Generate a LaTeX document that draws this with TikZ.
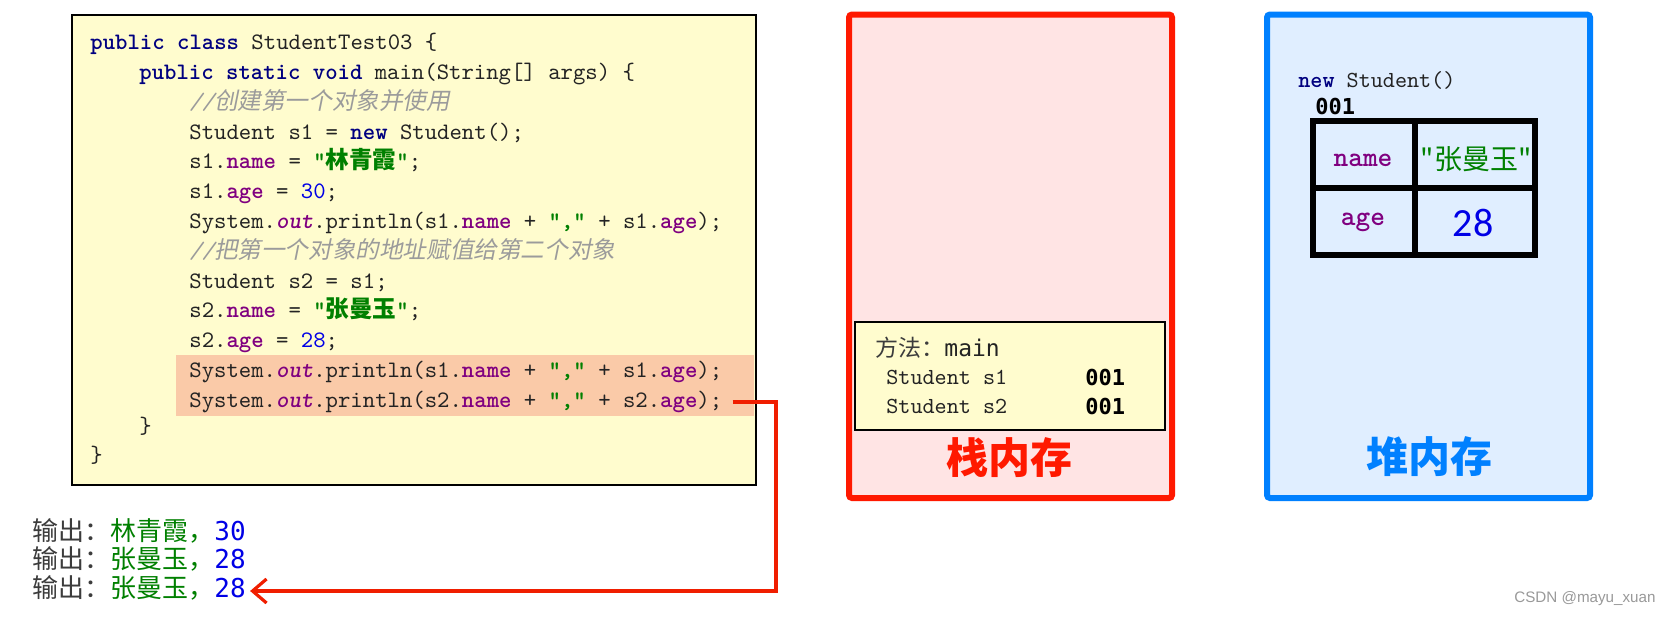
\documentclass[tikz,border=0pt]{standalone}
\usepackage{fontspec}
\usetikzlibrary{arrows.meta}
\setmonofont{lmmono10-regular.otf}[BoldFont=lmmonolt10-bold.otf,ItalicFont=lmmono10-italic.otf,BoldItalicFont=lmmonolt10-boldoblique.otf]
\newfontfamily\cjk{Noto Sans CJK SC}
\newfontfamily\cjkit[FakeSlant=0.2]{Noto Sans CJK SC}
\newfontfamily\dvm{DejaVu Sans Mono}
\newfontfamily\carl{Carlito}
\newfontfamily\lsans{Liberation Sans}
\definecolor{kwc}{RGB}{0,0,128}
\definecolor{fldc}{RGB}{128,0,128}
\definecolor{strc}{RGB}{0,128,0}
\definecolor{numc}{RGB}{0,0,230}
\definecolor{cmtc}{RGB}{155,155,155}
\definecolor{codetxt}{RGB}{35,35,35}
\definecolor{codebg}{RGB}{255,252,206}
\definecolor{hlc}{RGB}{250,202,168}
\definecolor{stackred}{RGB}{255,25,0}
\definecolor{stackbg}{RGB}{255,228,228}
\definecolor{heapblue}{RGB}{0,128,255}
\definecolor{heapbg}{RGB}{224,238,255}
\definecolor{outgray}{RGB}{60,60,60}
\definecolor{arrowred}{RGB}{240,30,0}
\newcommand{\ckw}[1]{{\color{kwc}\bfseries #1}}
\newcommand{\cfl}[1]{{\color{fldc}\bfseries #1}}
\newcommand{\cst}[1]{{\color{strc}\bfseries #1}}
\newcommand{\cnum}[1]{{\color{numc}#1}}
\newcommand{\cout}{{\color{fldc}\bfseries\itshape out}}
\newcommand{\ccmt}[1]{{\color{cmtc}\itshape //{\cjkit #1}}}
\begin{document}
\begin{tikzpicture}[x=0.5pt,y=-0.5pt,
  code/.style={anchor=base west,inner sep=0pt,text height=0.72em,text depth=0.22em,
    font=\ttfamily\fontsize{11.8}{14}\selectfont,text=codetxt},
  outline/.style={anchor=west,inner sep=0pt,text height=0.8em,text depth=0.2em,
    font=\cjk\fontsize{13}{15}\selectfont},
  frametxt/.style={anchor=west,inner sep=0pt,text=codetxt,font=\ttfamily\fontsize{11.5}{13}\selectfont},
  addr/.style={anchor=west,inner sep=0pt,text=black,font=\dvm\bfseries\fontsize{11}{13}\selectfont},
  memlabel/.style={inner sep=0pt,font=\cjk\bfseries\fontsize{21}{24}\selectfont},
  cell/.style={inner sep=0pt,font=\ttfamily\bfseries\fontsize{14}{16}\selectfont,text=fldc}]
\useasboundingbox (0,0) rectangle (1664,616);
\fill[white] (0,0) rectangle (1664,616);

% code box
\draw[line width=1.2pt,fill=codebg] (72,15) rectangle (756,485);
\fill[hlc] (176,355) rectangle (754,416);
\node[code] (l0) at (90,49) {\ckw{public class} StudentTest03 \{};
\node[code] (l1) at (139,79) {\ckw{public static void} main(String[] args) \{};
\node[code] (l2) at (189,109) {\ccmt{创建第一个对象并使用}};
\node[code] (l3) at (189,139) {Student s1 = \ckw{new} Student();};
\node[code] (l4) at (189,168) {s1.\cfl{name} = \cst{"{\cjk 林青霞}"};};
\node[code] (l5) at (189,198) {s1.\cfl{age} = \cnum{30};};
\node[code] (l6) at (189,228) {System.\cout.println(s1.\cfl{name} + \cst{","} + s1.\cfl{age});};
\node[code] (l7) at (189,258) {\ccmt{把第一个对象的地址赋值给第二个对象}};
\node[code] (l8) at (189,288) {Student s2 = s1;};
\node[code] (l9) at (189,317) {s2.\cfl{name} = \cst{"{\cjk 张曼玉}"};};
\node[code] (l10) at (189,347) {s2.\cfl{age} = \cnum{28};};
\node[code] (l11) at (189,377) {System.\cout.println(s1.\cfl{name} + \cst{","} + s1.\cfl{age});};
\node[code] (l12) at (189,407) {System.\cout.println(s2.\cfl{name} + \cst{","} + s2.\cfl{age});};
\node[code] (l13) at (139,433) {\}};
\node[code] (l14) at (90,462) {\}};

% output lines
\node[outline] (o1) at (32,534) {{\color{outgray}输出：}{\color{strc}林青霞，}{\color{numc}\dvm 30}};
\node[outline] (o2) at (32,562) {{\color{outgray}输出：}{\color{strc}张曼玉，}{\color{numc}\dvm 28}};
\node[outline] (o3) at (32,591) {{\color{outgray}输出：}{\color{strc}张曼玉，}{\color{numc}\dvm 28}};

% arrow
\coordinate (turn) at (776,400);
\draw[arrowred,line width=1.6pt,-{Straight Barb[length=7pt,width=12pt]}]
  ([xshift=5pt]l12.east) -- (l12.east -| turn) |- ([xshift=2pt]o3.east);

% stack memory
\draw[stackred,line width=3pt,fill=stackbg,rounded corners=1.5pt] (849,14.5) rectangle (1172,498);
\draw[line width=1pt,fill=codebg] (855,322) rectangle (1165,430);
\node[frametxt,anchor=west] (meth) at (875,348) {{\cjk\color{outgray}方法：}{\dvm main}};
\node[frametxt] (vs1) at (886,377) {Student s1};
\node[frametxt] (vs2) at (886,406) {Student s2};
\node[addr] (a1) at (1085,377) {001};
\node[addr] (a2) at (1085,406) {001};
\node[memlabel,text=stackred] (stk) at (1009,458) {栈内存};

% heap memory
\draw[heapblue,line width=3pt,fill=heapbg,rounded corners=1.5pt] (1267,14.5) rectangle (1590,498);
\node[frametxt] (newst) at (1298,80) {\ckw{new} Student()};
\node[addr] (ha) at (1315,106) {001};
\draw[line width=3pt] (1313,121) rectangle (1535,255);
\draw[line width=3pt] (1415,121) -- (1415,255);
\draw[line width=3pt] (1313,188) -- (1535,188);
\node[cell] (cn) at (1363,160) {name};
\node[cell,font=\cjk\fontsize{14}{16}\selectfont,text=strc] (cv) at (1476,159) {\textquotedbl 张曼玉\textquotedbl};
\node[cell] (ca) at (1363,222) {age};
\node[cell,font=\carl\fontsize{20}{22}\selectfont,text=numc] (cage) at (1473,223) {28};
\node[memlabel,text=heapblue] (hp) at (1429,457) {堆内存};

% watermark
\node[anchor=east,inner sep=0pt,font=\lsans\fontsize{7.6}{9}\selectfont,text=black!40] (wm) at (1656,599) {CSDN @mayu\_xuan};
\end{tikzpicture}
\end{document}
